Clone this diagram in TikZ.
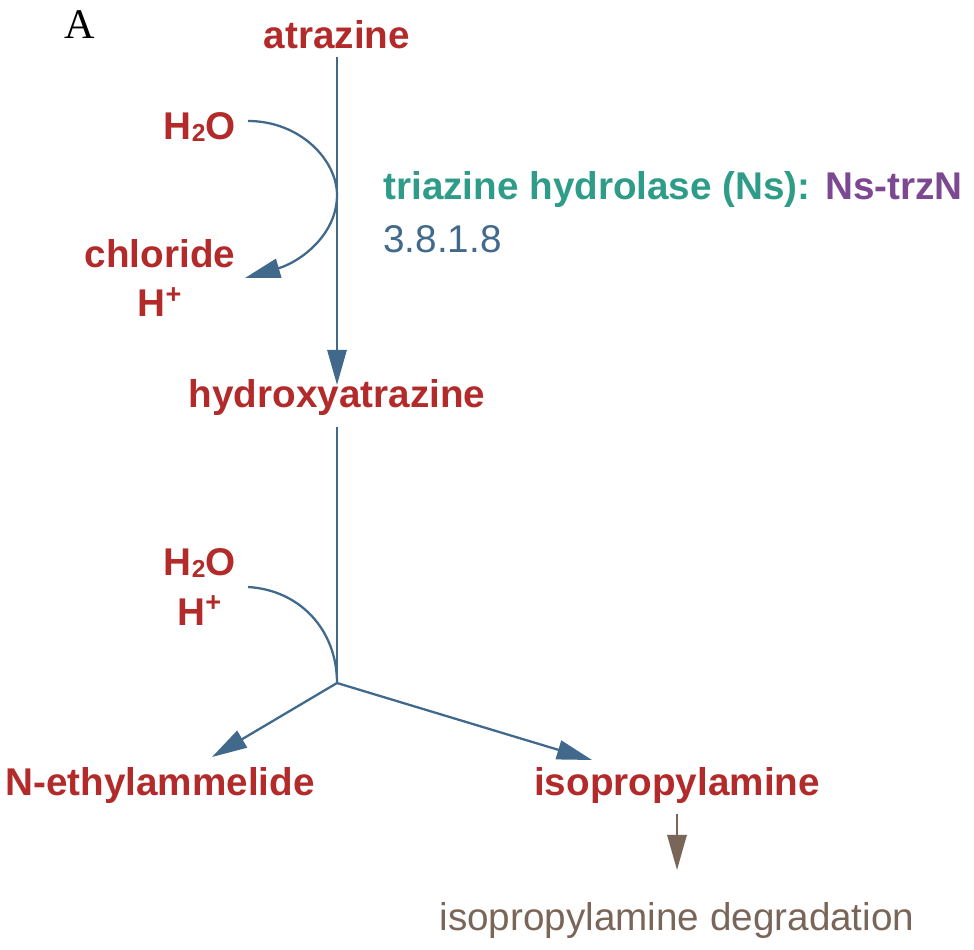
\documentclass[tikz,border=0pt]{standalone}
\usepackage{fontspec}
\setmainfont{Liberation Sans}
\newfontfamily\serifA{Liberation Serif}
\usetikzlibrary{arrows.meta}
\definecolor{cmp}{HTML}{B22A2A}
\definecolor{ln}{HTML}{41698C}
\definecolor{teal}{HTML}{2E9C88}
\definecolor{purp}{HTML}{7B4891}
\definecolor{brn}{HTML}{7A6658}
\tikzset{
 comp/.style={text=cmp,font=\fontsize{22}{26}\selectfont\bfseries,inner sep=0pt},
 conn/.style={draw=ln,line width=1.3pt},
 arr/.style={conn,-{Triangle[length=20pt,width=11pt]}},
}
\begin{document}
\begin{tikzpicture}[x=0.02cm,y=-0.02cm]
\useasboundingbox (0,0) rectangle (974,950);
\node[font=\serifA\fontsize{24}{26}\selectfont,inner sep=0pt] (A) at (80,25) {A};
\node[comp] (atr) at (337,35) {atrazine};
\node[comp] (hyd) at (337,398) {hydroxyatrazine};
\node[comp,anchor=east] (w1) at (236,127) {H\raisebox{-0.1ex}{\fontsize{14}{15}\selectfont 2}O};
\node[comp,align=center] (cl) at (160,278) {chloride\\[2pt]H\textsuperscript{+}};
\node[comp,anchor=east,align=center] (w2) at (236,587) {H\raisebox{-0.1ex}{\fontsize{14}{15}\selectfont 2}O\\[2pt]H\textsuperscript{+}};
\node[comp] (eth) at (160,785) {N-ethylammelide};
\node[comp] (iso) at (677,785) {isopropylamine};
\node[text=brn,font=\fontsize{22}{26}\selectfont,inner sep=0pt] (deg) at (677,920) {isopropylamine degradation};
\node[anchor=west,inner sep=0pt,font=\fontsize{22}{26}\selectfont\bfseries] (enz) at (383,190) {\textcolor{teal}{triazine hydrolase (Ns):} \textcolor{purp}{Ns-trzN}};
\node[anchor=west,inner sep=0pt,text=ln,font=\fontsize{22}{26}\selectfont] (ec) at (383,239) {3.8.1.8};
\coordinate (j1) at (337,195);
\coordinate (j2) at (337,683);
\coordinate (c1s) at (248,121);
\coordinate (c1e) at (245,278);
\coordinate (c2s) at (248,587);
\draw[arr] ([yshift=-4]atr.south) -- ([yshift=-3]hyd.north);
\draw[arr] (c1s) .. controls (300,121) and (337,160) .. (j1) .. controls (337,235) and (300,262) .. (c1e);
\draw[conn] (c2s) .. controls (300,590) and (337,630) .. (j2);
\draw[conn] ([yshift=-6]hyd.south) -- (j2);
\draw[arr] (j2) -- (212,757);
\draw[arr] (j2) -- (592,760);
\draw[draw=brn,line width=1.3pt,-{Triangle[length=20pt,width=11pt]}] ([yshift=-6]iso.south) -- (677,870);
\end{tikzpicture}
\end{document}
